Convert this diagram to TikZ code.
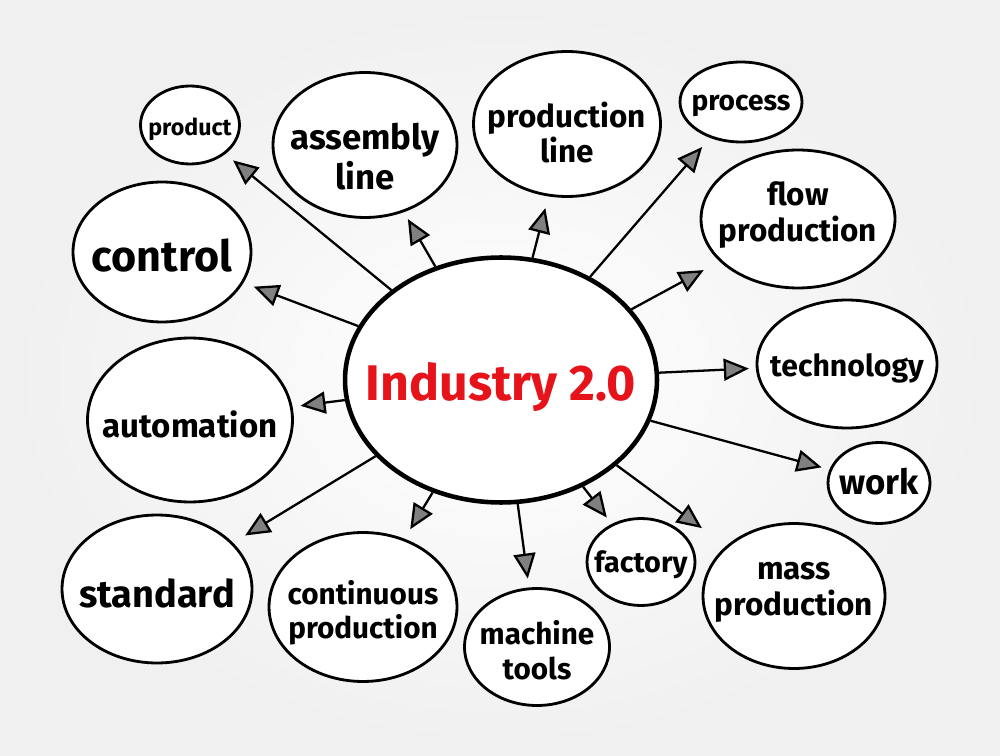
\documentclass[tikz,border=0pt]{standalone}
\usepackage{fontspec}
\setmainfont{Fira Sans}
\usetikzlibrary{arrows.meta,shapes.geometric}
\definecolor{mapred}{RGB}{230,20,26}
%text set in the middle of a bubble; optional drop in pt
\newcommand{\bubtext}[2][0]{\smash{\makebox[0pt]{\raisebox{-#1pt}{\begin{tabular}{@{}c@{}}#2\end{tabular}}}}}
\tikzset{
  bub/.style={ellipse, draw, fill=white, line width=1.6pt, inner sep=0pt},
  spoke/.style={-{Triangle[length=5mm,width=4.4mm,fill=black!50]}, line width=1.3pt},
}

\begin{document}
\begin{tikzpicture}[x=0.02cm,y=-0.02cm, every node/.style={font=\bfseries}]
  \pgfmathsetmacro {\cx}{501}   %centre of main bubble, x
  \pgfmathsetmacro {\cy}{380}   %centre of main bubble, y

  \useasboundingbox (0,0) rectangle (1000,756);
  \shade[inner color=white, outer color=gray!12] (0,0) rectangle (1000,756); %paper

  %Main topic
  \node[bub, line width=2.6pt, minimum width=6.24cm, minimum height=4.9cm,
        text=mapred, font=\bfseries\fontsize{28.5}{30}\selectfont] (ind) at (\cx,\cy) {\bubtext[11.3]{Industry 2.0}};

  %Top row
  \node[bub, minimum width=1.98cm, minimum height=1.56cm, font=\bfseries\fontsize{13.2}{15}\selectfont]
    (prod) at (190,125) {\bubtext[5.7]{product}};
  \node[bub, minimum width=3.68cm, minimum height=2.9cm, font=\bfseries\fontsize{19.8}{21.5}\selectfont]
    (asm) at (365,145) {\bubtext[14.7]{assembly\\line}};
  \node[bub, minimum width=3.74cm, minimum height=2.9cm, font=\bfseries\fontsize{17.9}{19}\selectfont]
    (pline) at (567,124) {\bubtext[12]{production\\line}};
  \node[bub, minimum width=2.44cm, minimum height=1.6cm, font=\bfseries\fontsize{16}{17}\selectfont]
    (proc) at (741,102) {\bubtext[5.7]{process}};

  %Left side
  \node[bub, minimum width=3.56cm, minimum height=2.8cm, font=\bfseries\fontsize{24.5}{26}\selectfont]
    (ctrl) at (162,252) {\bubtext[12]{control}};
  \node[bub, minimum width=4.1cm, minimum height=3.28cm, font=\bfseries\fontsize{18.8}{20}\selectfont]
    (auto) at (190,420) {\bubtext[9.6]{automation}};
  \node[bub, minimum width=3.8cm, minimum height=2.96cm, font=\bfseries\fontsize{21.6}{23}\selectfont]
    (std) at (157,589) {\bubtext[10.8]{standard}};

  %Right side
  \node[bub, minimum width=3.88cm, minimum height=2.76cm, font=\bfseries\fontsize{17.9}{19}\selectfont]
    (flow) at (798,219) {\bubtext[2.8]{flow\\production}};
  \node[bub, minimum width=3.6cm, minimum height=2.56cm, font=\bfseries\fontsize{17.2}{19}\selectfont]
    (tech) at (847,364) {\bubtext[7.4]{technology}};
  \node[bub, minimum width=2.04cm, minimum height=1.62cm, font=\bfseries\fontsize{19.8}{21}\selectfont]
    (work) at (879,483) {\bubtext[7.4]{work}};

  %Bottom row
  \node[bub, minimum width=3.76cm, minimum height=2.98cm, font=\bfseries\fontsize{16.9}{19.5}\selectfont]
    (cont) at (363,607) {\bubtext[8.5]{continuous\\production}};
  \node[bub, minimum width=2.9cm, minimum height=2.34cm, font=\bfseries\fontsize{16.9}{19.5}\selectfont]
    (mach) at (537,647) {\bubtext[9]{machine\\tools}};
  \node[bub, minimum width=2.16cm, minimum height=1.74cm, font=\bfseries\fontsize{16.4}{18}\selectfont]
    (fact) at (641,562) {\bubtext[6.8]{factory}};
  \node[bub, minimum width=3.64cm, minimum height=2.9cm, font=\bfseries\fontsize{17.9}{19.5}\selectfont]
    (mass) at (794,596) {\bubtext[1.1]{mass\\production}};

  %Spokes from the main bubble
  \draw[spoke, shorten >=0.20cm] (ind) -- (prod);
  \draw[spoke, shorten >=0.16cm] (ind) -- (asm);
  \draw[spoke, shorten >=0.24cm] (ind) -- (pline);
  \draw[spoke, shorten >=0.24cm] (ind) -- (proc);
  \draw[spoke, shorten >=0.36cm] (ind) -- (flow);
  \draw[spoke, shorten >=0.22cm] (ind) -- (ctrl);
  \draw[spoke, shorten >=0.14cm] (ind) -- (tech);
  \draw[spoke, shorten >=0.16cm] (ind) -- (auto);
  \draw[spoke, shorten >=0.16cm] (ind) -- (work);
  \draw[spoke, shorten >=0.28cm] (ind) -- (std);
  \draw[spoke, shorten >=0.22cm] (ind) -- (cont);
  \draw[spoke, shorten >=0.18cm] (ind) -- (mach);
  \draw[spoke, shorten >=0.16cm] (ind) -- (fact);
  \draw[spoke, shorten >=0.60cm] (ind) -- (mass);
\end{tikzpicture}
\end{document}
